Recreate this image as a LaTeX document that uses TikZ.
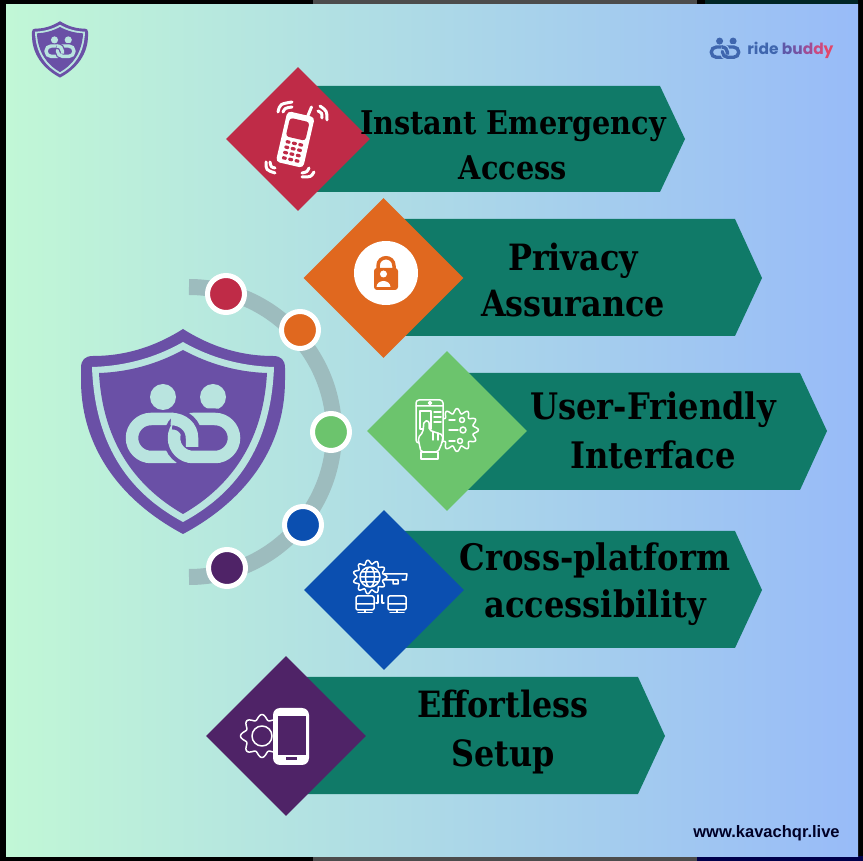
\documentclass[tikz,border=0pt]{standalone}
\usepackage{fontspec}
\usetikzlibrary{shapes.geometric}
\setmainfont{DejaVu Serif}[FakeStretch=0.88]
\newfontfamily\webfont{Liberation Sans}
\newfontfamily\logofont{Poppins}
\definecolor{leftbg}{HTML}{C1F7D6}
\definecolor{midbg}{HTML}{B0DBE8}
\definecolor{rightbg}{HTML}{98BBF8}
\definecolor{bannerteal}{HTML}{107A68}
\definecolor{arcgrey}{HTML}{9DBCBE}
\definecolor{shieldviolet}{HTML}{6A50A6}
\definecolor{shieldlight}{HTML}{B9E4DF}
\definecolor{redtone}{HTML}{BF2B47}
\definecolor{orangetone}{HTML}{E0681F}
\definecolor{greentone}{HTML}{6CC46D}
\definecolor{bluetone}{HTML}{0B4FB0}
\definecolor{plumtone}{HTML}{4F2367}
\definecolor{logoblue}{HTML}{3F66AE}
\tikzset{
  banner/.style={fill=bannerteal},
  square/.style={diamond,aspect=1,inner sep=0pt,minimum size=#1},
  dot/.style={circle,draw=white,line width=0.1cm,minimum size=0.74cm,inner sep=0pt},
  title/.style 2 args={align=center,font=\bfseries\fontsize{#1}{#2}\selectfont,text=black},
  iconline/.style={draw=white,line width=0.03cm,line join=round,line cap=round},
  waveline/.style={draw=white,line width=0.06cm,line cap=round},
  pics/cogwheel/.style n args={3}{code={
    \draw[iconline,fill=#3] plot[smooth cycle,domain=0:357,samples=120]
      ({(#1+0.13*#1*cos(#2*\x))*cos(\x)},{(#1+0.13*#1*cos(#2*\x))*sin(\x)});
  }},
  pics/linkmark/.style n args={3}{code={
    \fill[#2] (-20,-33) circle (13) (30,-33) circle (13);
    \draw[#2,line width=#1*0.25cm,rounded corners=#1*0.38cm] (-51,-11) rectangle (9,27);
    \draw[#3,line width=#1*0.42cm,rounded corners=#1*0.38cm] (-9,-11) rectangle (51,27);
    \draw[#2,line width=#1*0.25cm,rounded corners=#1*0.38cm] (-9,-11) rectangle (51,27);
    \draw[#3,line width=#1*0.42cm] (-10,-11) .. controls (0,-11) and (9,-3) .. (9,8) -- (9,13);
    \draw[#2,line width=#1*0.25cm] (-12,-11) .. controls (0,-11) and (9,-3) .. (9,8) -- (9,17);
  }},
  pics/shieldmark/.style={code={
    \fill[shieldviolet] (0,-101) .. controls (-30,-82) and (-60,-74) .. (-90,-74)
      .. controls (-98,-74) and (-102,-70) .. (-102,-62)
      -- (-102,-50) .. controls (-102,20) and (-60,72) .. (0,104)
      .. controls (60,72) and (102,20) .. (102,-50) -- (102,-62)
      .. controls (102,-70) and (98,-74) .. (90,-74)
      .. controls (60,-74) and (30,-82) .. (0,-101) -- cycle;
    \fill[shieldlight] (0,-88) .. controls (-28,-72) and (-58,-64) .. (-91,-63)
      .. controls (-88,20) and (-50,65) .. (0,92)
      .. controls (50,65) and (88,20) .. (91,-63)
      .. controls (58,-64) and (28,-72) .. (0,-88) -- cycle;
    \fill[shieldviolet] (0,-80) .. controls (-26,-66) and (-54,-58) .. (-84,-57)
      .. controls (-80,15) and (-45,58) .. (0,84)
      .. controls (45,58) and (80,15) .. (84,-57)
      .. controls (54,-58) and (26,-66) .. (0,-80) -- cycle;
    \pic[scale=#1] {linkmark={#1}{shieldlight}{shieldviolet}};
  }}
}
\begin{document}
\begin{tikzpicture}[x=0.02cm,y=-0.02cm]
\useasboundingbox (0,0) rectangle (863,861);
\fill[black] (0,0) rectangle (863,861);
\fill[black!70!white] (313,0) rectangle (697,5);
\fill[black!70!white] (313,856) rectangle (697,861);
\fill[teal!30!black] (705,0) rectangle (858,5);
\fill[blue!30!black] (697,856) rectangle (863,861);
\shade[left color=leftbg,middle color=midbg,right color=rightbg] (6,5) rectangle (858,856);

% banners
\fill[banner] (290,86) -- (660,86) -- (685,139) -- (660,192) -- (290,192) -- cycle;
\fill[banner] (380,219) -- (735,219) -- (762,278) -- (735,336) -- (380,336) -- cycle;
\fill[banner] (440,373) -- (800,373) -- (827,431) -- (800,490) -- (440,490) -- cycle;
\fill[banner] (380,531) -- (735,531) -- (762,590) -- (735,648) -- (380,648) -- cycle;
\fill[banner] (280,677) -- (638,677) -- (665,736) -- (638,794) -- (280,794) -- cycle;

% squares
\node[square=2.88cm,fill=redtone] (S1) at (298,139) {};
\node[square=3.2cm,fill=orangetone] (S2) at (383.5,278) {};
\node[square=3.2cm,fill=greentone] (S3) at (447,431) {};
\node[square=3.2cm,fill=bluetone] (S4) at (384,590) {};
\node[square=3.2cm,fill=plumtone] (S5) at (286,736) {};

% titles
\node[title={18.6}{25.6}] (T1) at (513,145) {Instant Emergency\\Access};
\node[title={20.6}{26.7}] (T2) at (573,280) {Privacy\\Assurance};
\node[title={20.8}{27.9}] (T3) at (653,430) {User-Friendly\\Interface};
\node[title={20.8}{26.7}] (T4) at (595,584) {Cross-platform\\accessibility};
\node[title={20.6}{27.9}] (T5) at (503,732) {Effortless\\Setup};

% arc and dots
\draw[arcgrey,line width=0.32cm] (189,287) .. controls (269,287) and (334,352) .. (334,432)
  .. controls (334,512) and (269,577) .. (189,577);
\node[dot,fill=redtone] (D1) at (226,294) {};
\node[dot,fill=orangetone] (D2) at (300,330) {};
\node[dot,fill=greentone] (D3) at (331,432) {};
\node[dot,fill=bluetone] (D4) at (303,525) {};
\node[dot,fill=plumtone] (D5) at (227,568) {};

% shields
\pic at (183,430) {shieldmark=1};
\pic[scale=0.275] at (60,49) {shieldmark=0.275};

% phone
\begin{scope}[shift={(295.3,139.5)},rotate=-13]
\fill[white,rounded corners=0.08cm] (-14,-26) rectangle (14,26);
\fill[redtone,rounded corners=0.06cm] (-10,-20) rectangle (10,-1);
\foreach \row in {4,9.5,15,20.5}
  \foreach \col in {-6.5,0,6.5}
    \fill[redtone,rounded corners=0.02cm] (\col-2.4,\row-1.6) rectangle (\col+2.4,\row+1.6);
\end{scope}
\draw[white,line width=0.06cm,line cap=round] (307,118) -- (311.5,107);
\draw[waveline] (278,112) .. controls (280,104) .. (292,102);
\draw[waveline] (283,112) .. controls (285,108) .. (292,107);
\draw[waveline] (320,106) .. controls (327,111) .. (327,120);
\draw[waveline] (318,111) .. controls (322,113) .. (322,118);
\draw[waveline] (266,162) .. controls (266,170) .. (275,173);
\draw[waveline] (270,162) .. controls (271,167) .. (275,168);
\draw[waveline] (302,177) .. controls (311,177) .. (314,172);
\draw[waveline] (302,173) .. controls (307,172) .. (309,168);

% lock
\node[circle,fill=white,minimum size=1.28cm,inner sep=0pt] (C2) at (386,273) {};
\draw[orangetone,line width=0.07cm] (378,272) -- (378,266) .. controls (378,255) and (394,255) .. (394,266) -- (394,272);
\fill[orangetone,rounded corners=0.06cm] (374,268) rectangle (398,290);
\fill[white] (383.5,274) circle (3.5);
\fill[white] (376.5,287) .. controls (377,279) and (390,279) .. (390.5,287) -- cycle;

% touch screen
\pic at (457,430) {cogwheel={19}{12}{greentone}};
\draw[iconline] (449,420) -- (455,420) (449,430) -- (458,430) (449,441) -- (455,441);
\draw[iconline] (462,420) circle (2.5) (463,430) circle (3) (460,441) circle (2.5);
\draw[iconline,fill=greentone,rounded corners=0.06cm] (416,400) rectangle (443,443);
\draw[iconline] (416,406) -- (443,406) (430,403) circle (1.5);
\draw[iconline] (420,411) rectangle (431,429) (434,412) -- (441,412) (434,417) -- (441,417) (434,422) -- (441,422);
\draw[iconline,fill=greentone,rounded corners=0.04cm] (421,452) -- (418,438) -- (423,432) -- (424,421) -- (429,421) -- (429,430) -- (443,435) -- (442,443) -- (438,452) -- cycle;
\draw[iconline] (433,432) -- (433,440) (438,433) -- (438,440);
\draw[iconline,fill=greentone] (421,452) rectangle (438,459);

% globe and key
\pic at (370,577) {cogwheel={15}{11}{bluetone}};
\draw[iconline] (370,577) circle (10) (370,577) ellipse (4.5 and 10) (360,577) -- (380,577) (362,572) -- (378,572) (362,582) -- (378,582);
\draw[iconline] (384,574) -- (407,574) -- (406,580) -- (402,580) (398,580) -- (393,580) -- (393,584) -- (398,584) -- (398,580) (393,580) -- (384,580);
\draw[iconline,rounded corners=0.03cm] (356,596) rectangle (374,610) (357,604) -- (373,604);
\draw[iconline] (365,610) -- (365,612) (358,612.5) -- (372,612.5);
\draw[iconline,rounded corners=0.03cm] (388,596) rectangle (406,610) (389,604) -- (405,604);
\draw[iconline] (397,610) -- (397,612) (390,612.5) -- (404,612.5);
\draw[iconline] (378,595) -- (378,603) -- (376,603) (382,595) -- (382,603) -- (384,603);

% gear and mobile
\pic at (262,736) {cogwheel={19}{8}{plumtone}};
\draw[iconline] (262,736) circle (10);
\fill[white,rounded corners=0.14cm] (273,708) rectangle (309,765);
\fill[plumtone] (278,716) rectangle (306,755);
\fill[plumtone] (286,757) rectangle (297,760);

% logo
\pic[scale=0.27] at (725,50) {linkmark={0.27}{logoblue}{rightbg!70!midbg}};
\node[anchor=base west,inner sep=0pt,font=\logofont\bfseries\fontsize{8.8}{11}\selectfont] (L1) at (747,55)
  {\textcolor{logoblue}{ride} \textcolor[HTML]{5E58A8}{b}\textcolor[HTML]{7452A2}{u}\textcolor[HTML]{A04C94}{d}\textcolor[HTML]{CB4A80}{d}\textcolor[HTML]{E2466A}{y}};

% website
\node[anchor=base east,inner sep=0pt,font=\webfont\bfseries\fontsize{9.4}{11}\selectfont,text=black!85!blue] (W1) at (840,837) {www.kavachqr.live};
\end{tikzpicture}
\end{document}
